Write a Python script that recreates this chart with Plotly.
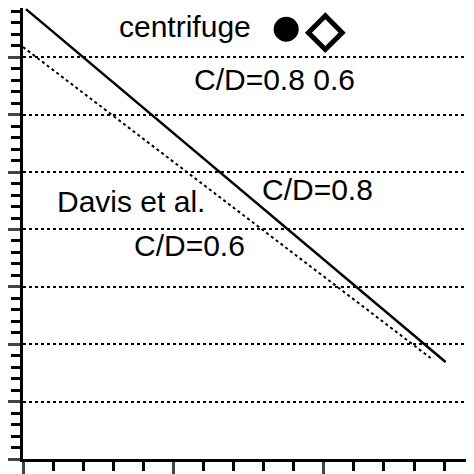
import plotly.graph_objects as go

solid_x = [0.02, 2.81]
solid_y = [7.84, 1.69]
dotted_x = [0.0, 2.71]
dotted_y = [7.18, 1.76]
labels = ["centrifuge", "C/D=0.8 0.6", "Davis et al.", "C/D=0.8", "C/D=0.6"]
label_x = [1.08, 1.67, 0.72, 1.96, 1.11]
label_y = [7.54, 6.61, 4.49, 4.69, 3.72]

fig = go.Figure()
fig.add_trace(go.Scatter(x=solid_x, y=solid_y, mode="lines", line=dict(color="black", width=2.5), cliponaxis=False))
fig.add_trace(go.Scatter(x=dotted_x, y=dotted_y, mode="lines", line=dict(color="black", width=2, dash="dot")))
fig.add_trace(go.Scatter(x=[1.75], y=[7.49], mode="markers", marker=dict(symbol="circle", size=25, color="black")))
fig.add_trace(go.Scatter(x=[2.01], y=[7.43], mode="markers",
                         marker=dict(symbol="diamond-open", size=26, color="black", line=dict(width=5))))
for t, x, y in zip(labels, label_x, label_y):
    fig.add_annotation(x=x, y=y, text=t, showarrow=False, font=dict(size=30, color="black", family="Liberation Sans"))

fig.update_layout(width=474, height=474, margin=dict(l=7, r=0, t=0, b=23),
                  plot_bgcolor="white", paper_bgcolor="white", showlegend=False)
fig.update_xaxes(range=[0, 3.052], dtick=1, showticklabels=False, showgrid=False, zeroline=False,
                 showline=True, linecolor="black", linewidth=3, ticks="outside", ticklen=15, tickwidth=3,
                 minor=dict(dtick=0.2, ticks="outside", ticklen=9, tickwidth=3, tickcolor="black"))
fig.update_yaxes(range=[0, 7.86], dtick=1, showticklabels=False, showgrid=True, gridcolor="black",
                 griddash="dot", gridwidth=1.5, zeroline=False,
                 showline=True, linecolor="black", linewidth=3, ticks="outside", ticklen=15, tickwidth=3,
                 minor=dict(dtick=0.2, ticks="outside", ticklen=9, tickwidth=3, tickcolor="black", showgrid=False))
fig.write_html("out.html")
